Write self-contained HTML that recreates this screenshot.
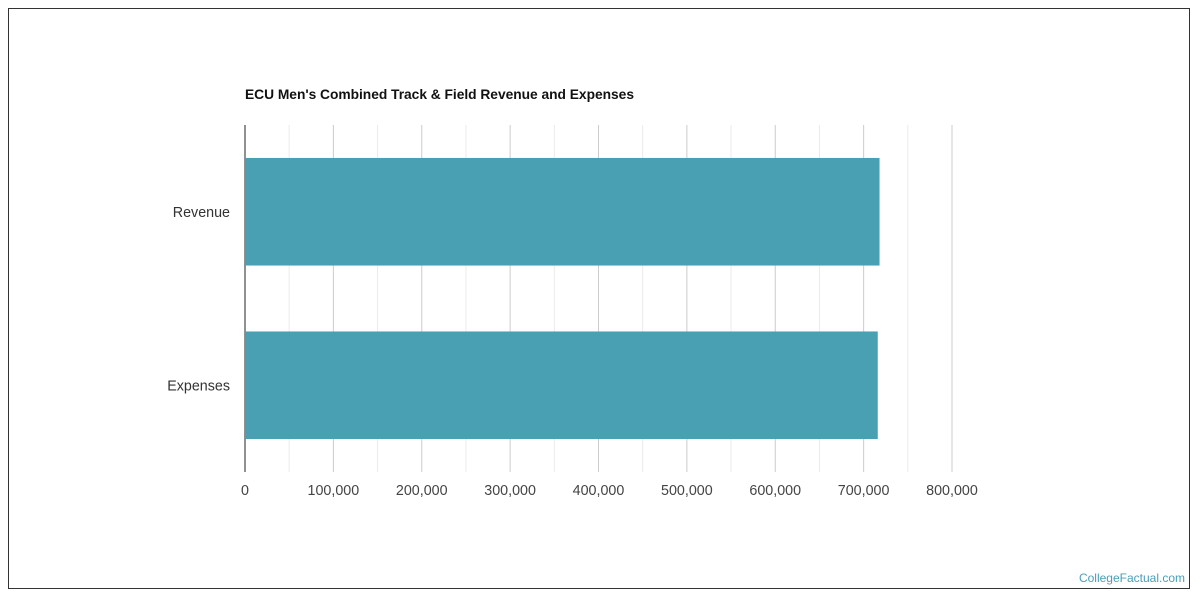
<!DOCTYPE html>
<html><head><meta charset="utf-8"><style>
body{margin:0;width:1200px;height:600px;background:#fff;font-family:"Liberation Sans",Arial,sans-serif;}
#frame{position:absolute;left:8px;top:8px;width:1182px;height:581px;border:1px solid #333;box-sizing:border-box;}
</style></head><body>
<div id="frame"></div>
<svg id="chart" width="1200" height="600" style="position:absolute;left:0;top:0">
<text x="245" y="99" font-size="13.8" font-weight="bold" fill="#111" textLength="389">ECU Men's Combined Track &amp; Field Revenue and Expenses</text>
<g id="grid"></g><g id="bars"></g><g id="labels"></g>
<text x="1185" y="582" font-size="12" fill="#4a9fb5" text-anchor="end">CollegeFactual.com</text>
</svg>
<script>
const categories=["Revenue","Expenses"];
const values=[718000,716000];
const ticks=[0,100000,200000,300000,400000,500000,600000,700000,800000];
const tickLabels=["0","100,000","200,000","300,000","400,000","500,000","600,000","700,000","800,000"];
const NS="http://www.w3.org/2000/svg";
const x0=245,x1=952,yTop=125,yBot=472;
const xs=v=>x0+(v/800000)*(x1-x0);
const band=(yBot-yTop)/categories.length;
const g=document.getElementById('grid'),b=document.getElementById('bars'),l=document.getElementById('labels');
function mk(t,a,p){const e=document.createElementNS(NS,t);for(const k in a)e.setAttribute(k,a[k]);p.appendChild(e);return e;}
for(let i=0;i<ticks.length*2-1;i++){
  const v=i*50000;
  const ln=mk('line',{x1:xs(v),x2:xs(v),y1:yTop,y2:yBot,stroke:i%2?'#ebebeb':'#ccc','stroke-width':1},g);
  
  
}
ticks.forEach((t,i)=>{
  const tx=mk('text',{x:xs(t),y:495,'font-size':14.3,fill:'#444','text-anchor':'middle'},l);
  tx.textContent=tickLabels[i];
  
  
});
const ax=mk('line',{x1:x0,x2:x0,y1:yTop,y2:yBot,stroke:'#222','stroke-width':1},g);


categories.forEach((c,i)=>{
  const y=yTop+band*i+band*0.19;
  const h=band*0.62;
  const r=mk('rect',{x:x0,y:y,width:xs(values[i])-x0,height:h,fill:'#4aa0b3'},b);
  
  
  const t=mk('text',{x:230,y:y+h/2+5,'font-size':14.3,fill:'#333','text-anchor':'end'},l);
  t.textContent=c;
  
  
});
</script>
</body></html>
